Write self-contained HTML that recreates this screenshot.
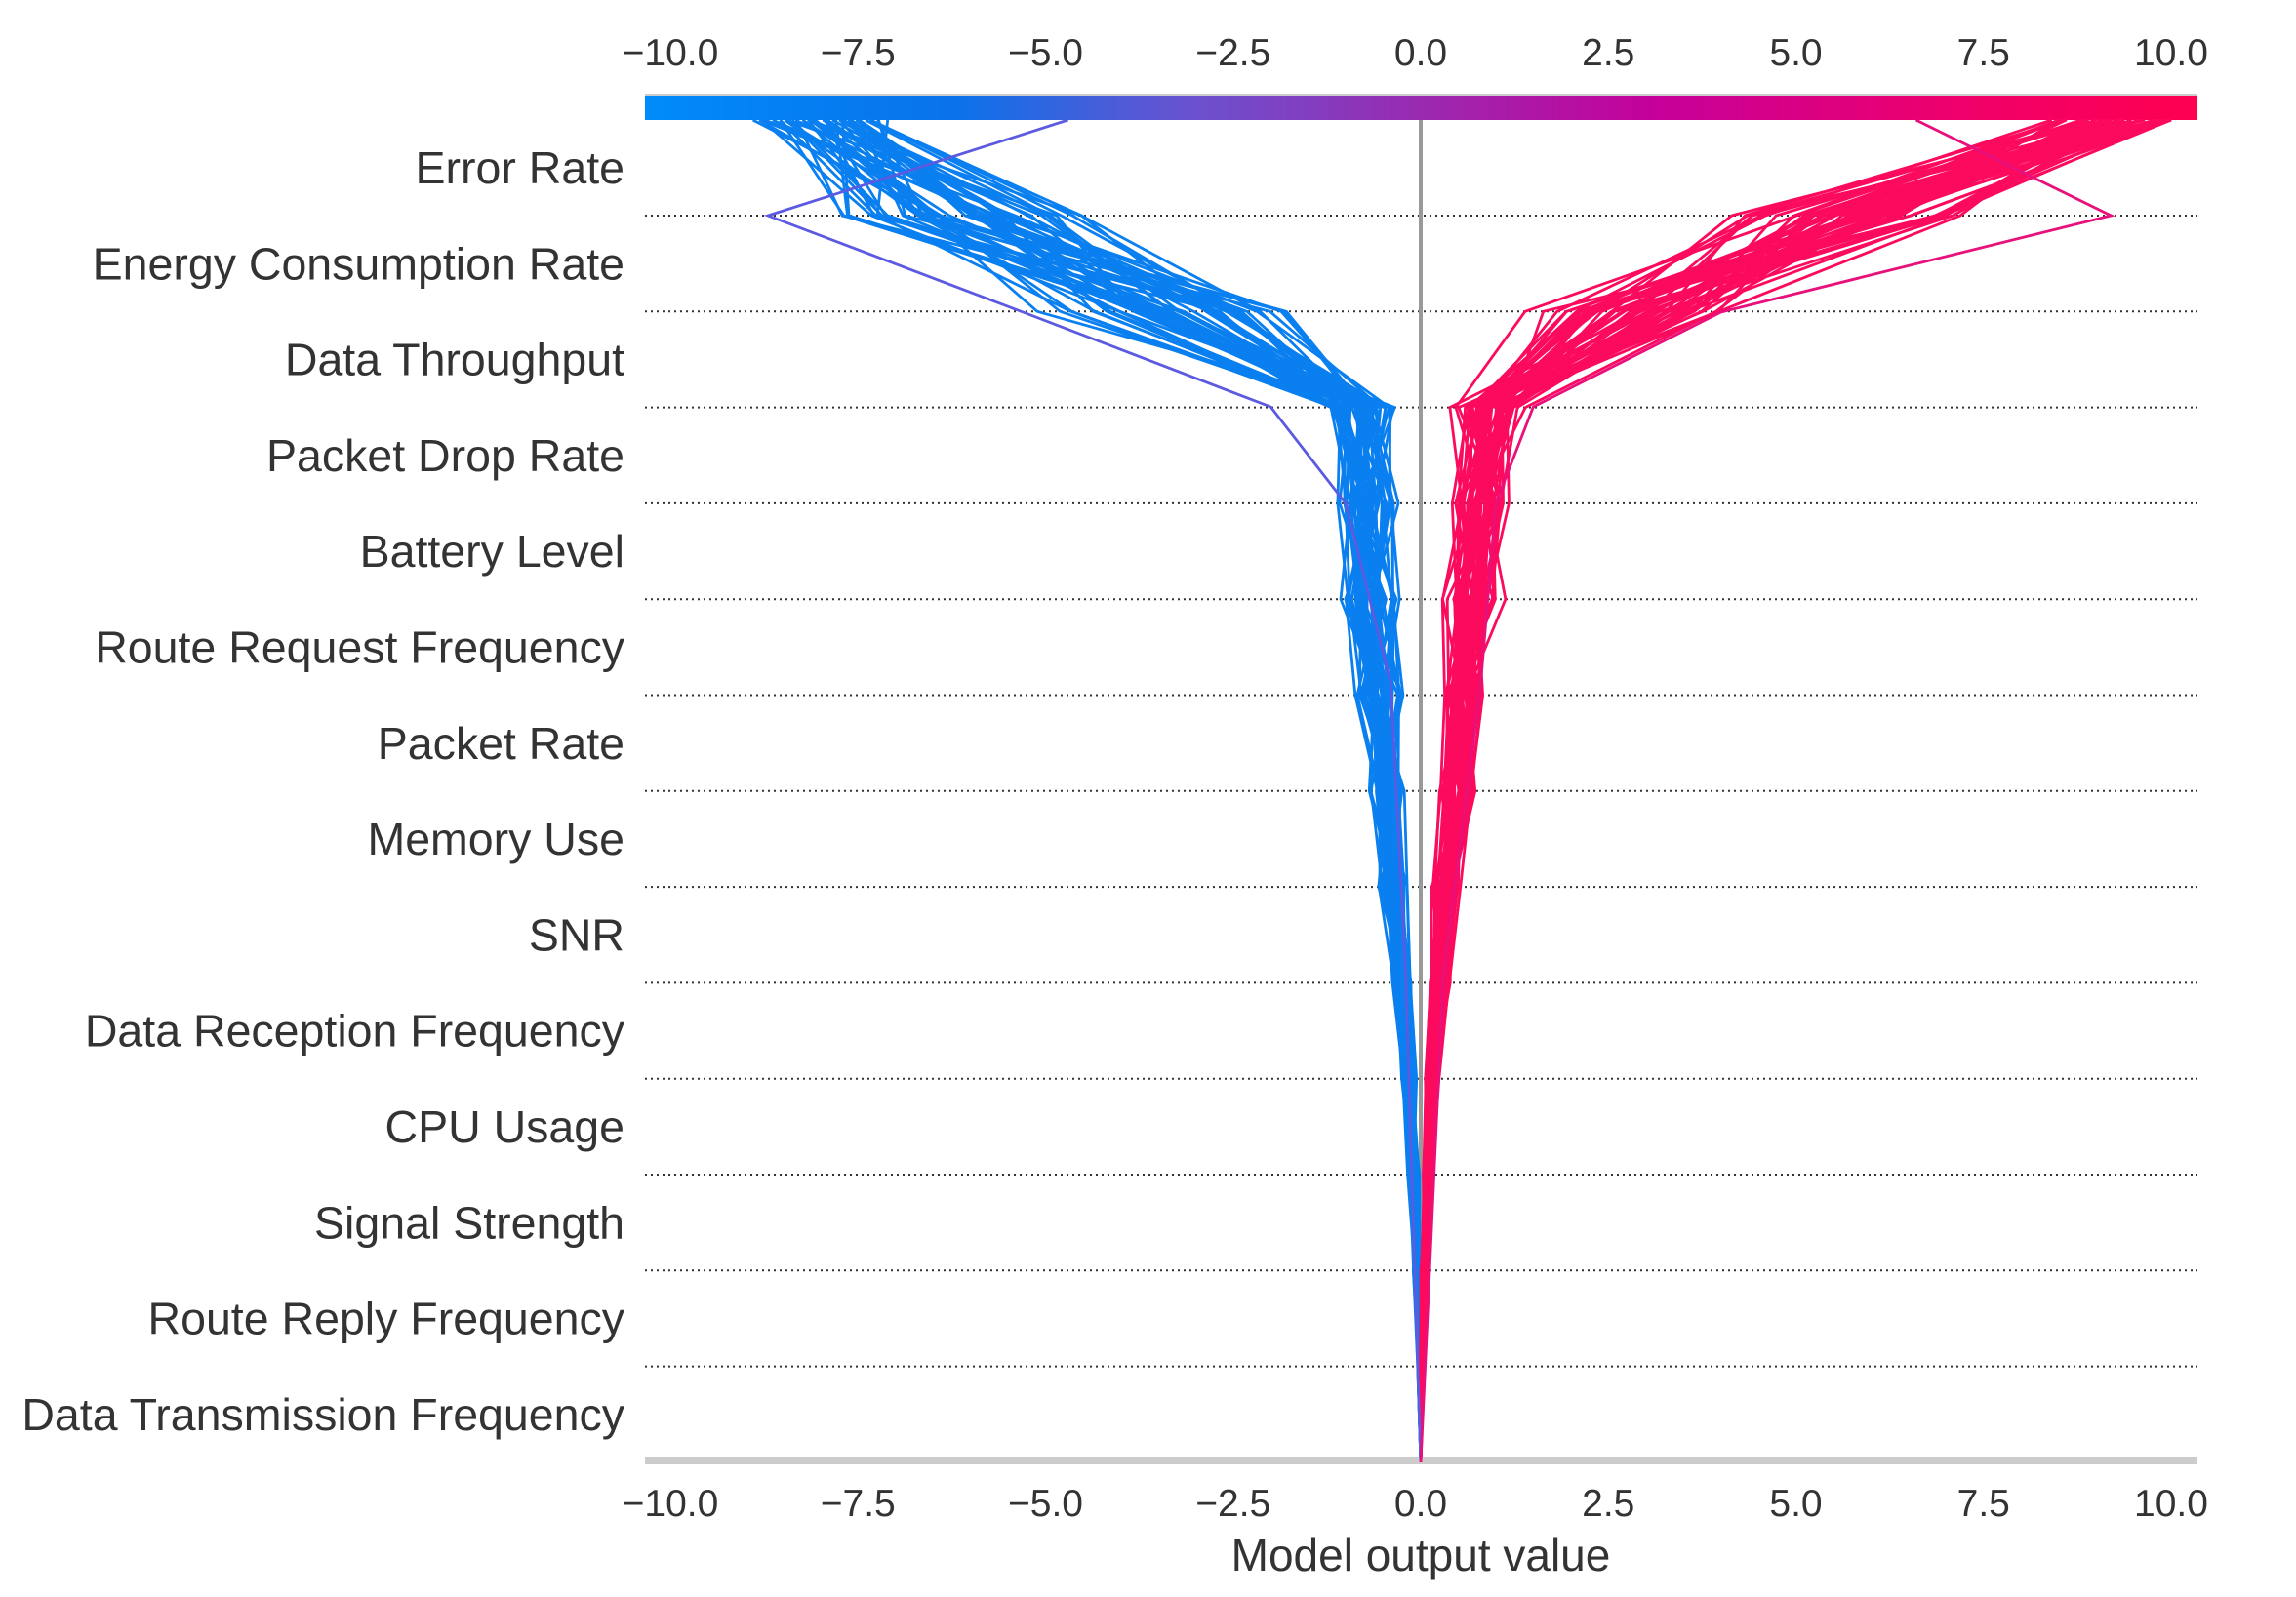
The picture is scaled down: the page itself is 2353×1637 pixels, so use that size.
<!DOCTYPE html>
<html><head><meta charset="utf-8"><style>
body{margin:0;background:#fff;}
svg{display:block;font-family:"Liberation Sans",sans-serif;}
</style></head><body>
<svg id="s" width="2353" height="1637" xmlns="http://www.w3.org/2000/svg">
<defs><linearGradient id="g" x1="0" x2="1" y1="0" y2="0">
<stop offset="0" stop-color="#008bfb"/><stop offset="0.2" stop-color="#0a72ea"/><stop offset="0.35" stop-color="#6a52d0"/><stop offset="0.5" stop-color="#9a2ab0"/><stop offset="0.65" stop-color="#c5009a"/><stop offset="0.85" stop-color="#f0006a"/><stop offset="1" stop-color="#ff0051"/></linearGradient></defs>
<rect x="661" y="96" width="1591" height="3" fill="#ccc"/>
<rect x="661" y="98" width="1591" height="25" fill="url(#g)"/>
<rect x="661" y="1494" width="1591" height="7" fill="#ccc"/>
<g id="dots" stroke="#333" stroke-width="2" stroke-dasharray="2,4"></g>
<line x1="1456" y1="123" x2="1456" y2="1494" stroke="#999" stroke-width="4"/>
<g id="lines" fill="none" stroke-width="2.8"></g>
<g id="txt" fill="#333" font-size="46.5"></g>
<text x="1456" y="1610" font-size="46" fill="#333" text-anchor="middle">Model output value</text>
</svg>
<script>
var NS="http://www.w3.org/2000/svg";
function el(t,a,p,txt){var e=document.createElementNS(NS,t);for(var k in a)e.setAttribute(k,a[k]);if(txt)e.textContent=txt;p.appendChild(e);return e;}
var X=function(v){return 1456+v*76.9;};
var dots=document.getElementById('dots'),txt=document.getElementById('txt'),lines=document.getElementById('lines');
var names=["Error Rate","Energy Consumption Rate","Data Throughput","Packet Drop Rate","Battery Level","Route Request Frequency","Packet Rate","Memory  Use","SNR","Data Reception Frequency","CPU Usage","Signal Strength","Route Reply Frequency","Data Transmission Frequency"];
for(var i=0;i<14;i++){var y=172+i*98.3;el('text',{x:640,y:y+16,'text-anchor':'end','xml:space':'preserve'},txt,names[i]);
 if(i<13)el('line',{x1:661,x2:2252,y1:221+i*98.3,y2:221+i*98.3},dots);}
var ticks=["\u221210.0","\u22127.5","\u22125.0","\u22122.5","0.0","2.5","5.0","7.5","10.0"];
for(var i=0;i<9;i++){var v=-10+i*2.5;el('text',{x:X(v),y:67,'text-anchor':'middle','font-size':39},txt,ticks[i]);el('text',{x:X(v),y:1554,'text-anchor':'middle','font-size':39},txt,ticks[i]);}
var seed=11;function r(){seed=(seed*16807)%2147483647;return seed/2147483647;}
var lv=[1499];for(var k=12;k>=0;k--)lv.push(221+k*98.3);lv.push(123);
var bm=[0,.02,.05,.1,.15,.25,.35,.45,.55,.65,.7,.75,3.2,6.0,8.0];
var rm=[0,.02,.05,.1,.15,.25,.35,.5,.6,.7,.8,.9,2.8,5.8,9.3];
var nz=[0,.02,.04,.06,.08,.1,.15,.2,.25,.3,.3,.35,1.1,1.3,0.7];
for(var n=0;n<110;n++){
 var neg=n<55;var m=neg?bm:rm;var s=neg?-1:1;var pts=[];var bias=(r()-0.5);
 for(var j=0;j<15;j++){
  var v=m[j]+(j?((r()-0.5)*2*nz[j]+bias*nz[j]):0);
  if(j>=12&&r()<0.07)v+=(r()-0.3)*3;
  if(j==14){v=Math.min(v,neg?8.9:10);}
  v=Math.max(v,-0.3);
  pts.push(X(s*v).toFixed(1)+","+lv[j].toFixed(1));}
 el('polyline',{points:pts.join(" "),stroke:neg?"#0a7ff0":"#fb0a5e"},lines);
}
el('polyline',{points:[X(0),1499,X(-0.2),1000,X(-0.4),700,X(-1),516,X(-2),417,X(-5.3),320,X(-8.7),221,X(-4.7),123].join(" "),stroke:"#5b5ae0"},lines);
el('polyline',{points:[X(0),1499,X(0.3),1000,X(0.8),700,X(1),516,X(1.5),417,X(4),320,X(9.2),221,X(6.6),123].join(" "),stroke:"#e8107a"},lines);
</script>
</body></html>
